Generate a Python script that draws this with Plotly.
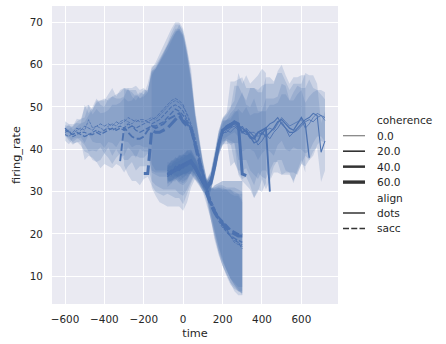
import plotly.graph_objects as go

# ---------------- data ----------------
COHERENCE = [0.0, 3.2, 6.4, 12.8, 25.6, 51.2]

DOTS_TIME = [-80, -60, -40, -20, 0, 20, 40, 60, 80, 100, 120, 140, 160, 180, 200,
             220, 240, 260, 280, 300, 320, 340, 360, 380, 400, 420, 440, 460, 480,
             500, 520, 540, 560, 580, 600, 620, 640, 660, 680, 700, 720]

SACC_TIME = [-600, -580, -560, -540, -520, -500, -480, -460, -440, -420, -400, -380,
             -360, -340, -320, -300, -280, -260, -240, -220, -200, -180, -160, -140,
             -120, -100, -80, -60, -40, -20, 0, 20, 40, 60, 80, 100, 120, 140, 160,
             180, 200, 220, 240, 260, 280, 300]

# mean firing rate, align = dots (series start at DOTS_TIME[0])
dots_c0 = [35.0, 34.5, 35.5, 36.0, 36.5, 36.0, 37.0, 35.5, 34.0, 32.5, 31.0, 32.5, 37.0, 41.5, 43.5, 44.5, 44.0, 45.0, 45.5,
           44.0, 45.0, 44.0, 44.0, 43.0, 44.0, 44.5, 45.0, 44.5, 46.0, 47.5, 46.5, 45.5, 46.0, 46.5, 47.0, 45.0, 46.0, 47.5, 48.5, 48.0, 46.8]
dots_c3 = [34.0, 35.0, 35.0, 36.5, 35.5, 37.0, 36.5, 35.0, 33.5, 32.0, 30.5, 32.0, 36.5, 41.0, 44.0, 44.0, 45.0, 45.5, 44.5,
           45.5, 44.0, 42.5, 43.0, 41.0, 42.0, 43.5, 42.5, 44.0, 45.0, 46.5, 45.0, 43.0, 44.0, 44.5, 45.5, 46.5, 47.0, 46.5, 47.5, 48.0, 47.5]
dots_c6 = [34.5, 34.0, 36.0, 35.5, 36.5, 36.5, 37.5, 36.0, 34.5, 32.5, 31.5, 33.0, 37.5, 42.0, 44.5, 45.0, 45.5, 46.0, 45.0,
           44.0, 43.5, 44.0, 43.0, 44.0, 43.5, 45.0, 46.0, 46.5, 47.5, 46.0, 45.0, 44.0, 44.0, 45.0, 46.0, 47.0, 47.5, 48.5, 48.0, 39.3, 42.0]
dots_c12 = [33.5, 34.5, 35.5, 35.0, 36.0, 37.0, 37.0, 35.5, 34.0, 32.0, 31.0, 32.5, 36.5, 41.5, 44.0, 45.5, 46.0, 46.5, 45.5,
            45.0, 44.0, 43.0, 41.5, 42.0, 44.0, 43.0, 44.0, 45.0, 46.5, 47.0, 46.0, 45.0, 44.5, 46.0, 47.5, 46.0, 38.0]
dots_c25 = [34.0, 35.0, 35.0, 36.0, 36.5, 37.0, 37.5, 36.0, 34.0, 32.0, 31.0, 32.0, 36.0, 41.0, 44.5, 45.5, 46.0, 46.5, 46.0,
            44.0, 44.5, 43.0, 42.5, 44.0, 44.5, 45.0, 30.0]
dots_c51 = [34.0, 34.5, 35.0, 35.5, 36.0, 36.5, 37.0, 36.0, 34.0, 32.5, 31.0, 32.0, 36.0, 41.0, 44.5, 45.0, 45.5, 46.5, 46.0,
            34.2, 33.8]

# confidence-band half widths, align = dots (None = no band)
dots_c0_ci = [2.0, 2.2, 2.0, 2.4, 2.2, 2.5, 2.3, 2.1, 2.0, 1.8, 1.6, 1.8, 2.0, 2.2, 2.5,
              2.5, 3.0, 3.5, 4.0, 4.5, 5.0, 4.0, 4.5, 5.5, 5.0, 4.5, 5.5, 6.0, 5.0, 5.5, 6.5, 6.0, 5.5, 6.5, 7.0, 6.0, 6.5, 6.0, 5.5, 5.0, 5.0]
dots_c3_ci = [2.2, 2.4, 2.6, 2.3, 2.5, 2.7, 2.4, 2.2, 2.0, 1.8, 1.7, 2.0, 2.3, 2.5, 2.8,
              2.8, 3.5, 4.0, 7.0, 8.0, 6.5, 7.5, 9.0, 8.0, 7.0, 8.5, 9.5, 8.0, 7.5, 9.0, 10.0, 8.5, 9.5, 10.5, 9.0, 8.0, 9.5, 8.0, 6.5, 6.0, 6.0]
dots_c6_ci = [1.8, 2.0, 2.2, 2.0, 2.3, 2.1, 2.2, 2.0, 1.9, 1.7, 1.5, 1.7, 2.0, 2.3, 2.6,
              3.0, 4.0, 9.0, 10.0, 9.0, 8.0, 10.5, 11.5, 9.5, 10.0, 12.0, 11.0, 9.5, 10.5, 12.0, 11.0, 10.0, 11.5, 10.5, 9.5, 11.0, 10.0, 9.0, 7.5, 7.0, 7.0]
dots_c12_ci = [2.4, 2.6, 2.5, 2.8, 2.6, 2.9, 2.7, 2.5, 2.3, 2.0, 1.8, 2.1, 2.4, 2.8, 3.2,
               3.0, 10.0, 9.5, 11.0, 12.0, 10.5, 11.5, 13.0, 12.0, 11.0, 12.5, 11.5, 10.5, 12.0, 13.0, 11.5, 10.5, 12.5, 11.0, 10.0, 11.5, None]
dots_c25_ci = [2.0, 2.3, 2.1, 2.5, 2.4, 2.6, 2.5, 2.2, 2.0, 1.8, 1.6, 1.9, 2.2, 2.6, 3.0,
               3.0, 4.0, 5.0, 12.0, 11.5, 13.0, 12.5, 14.0, 13.5, 14.5, 13.0, None]
dots_c51_ci = [1.6, 1.8, 1.9, 1.7, 2.0, 2.1, 2.0, 1.8, 1.7, 1.5, 1.4, 1.6, 1.8, 2.0, 2.2,
               2.0, 2.0, 2.5, 3.0, 3.0, None]

# mean firing rate, align = sacc (series end at SACC_TIME[-1])
sacc_c0 = [44.5, 44.0, 43.5, 44.5, 45.0, 44.5, 47.0, 45.0, 45.5, 45.0, 44.5, 45.5, 46.0, 45.5, 46.5, 47.0, 46.5, 46.0, 47.0, 46.5,
           46.5, 47.0, 47.5, 47.0, 48.0, 49.0, 50.0, 51.0, 51.5, 51.0, 50.0, 48.5, 46.0, 43.0, 39.0, 35.0, 31.0, 28.0, 25.5, 24.0,
           22.5, 21.0, 20.0, 19.0, 18.0, 17.0]
sacc_c3 = [43.5, 43.0, 44.0, 45.0, 44.5, 45.5, 45.0, 44.5, 45.5, 46.0, 45.5, 46.0, 45.5, 46.5, 46.0, 46.5, 47.5, 47.0, 46.5, 47.0,
           47.0, 46.5, 47.0, 47.5, 48.5, 49.5, 50.5, 51.5, 52.0, 51.5, 50.5, 48.0, 45.5, 42.0, 38.0, 34.0, 30.5, 27.5, 25.0, 23.0,
           21.5, 20.5, 19.5, 18.0, 17.5, 17.5]
sacc_c6 = [44.0, 44.5, 43.0, 43.5, 44.0, 44.0, 43.5, 44.0, 44.5, 44.0, 44.5, 45.0, 44.5, 45.0, 45.5, 45.0, 46.0, 45.5, 45.0, 45.5,
           46.0, 46.5, 46.0, 46.5, 47.0, 48.0, 49.0, 50.0, 50.5, 50.0, 49.0, 47.0, 45.0, 42.0, 38.5, 34.5, 31.0, 28.0, 26.0, 24.0,
           22.0, 21.0, 19.5, 18.5, 18.0, 16.5]
sacc_c12 = [45.0, 44.0, 43.5, 44.0, 43.5, 43.0, 43.5, 43.5, 44.0, 43.5, 44.0, 44.5, 45.0, 44.5, 45.0, 44.5, 45.0, 45.5, 44.5, 44.0,
            44.5, 45.0, 45.5, 45.5, 46.0, 46.5, 47.5, 48.5, 49.5, 49.0, 48.0, 46.5, 44.5, 41.5, 38.0, 34.0, 30.5, 27.0, 25.0, 23.5,
            22.0, 20.5, 19.5, 19.0, 18.5, 18.0]
sacc_c25 = [37.2, 45.2, 44.0, 43.0, 42.5, 42.5,
            43.0, 44.5, 45.5, 45.0, 45.5, 46.0, 47.0, 47.5, 48.0, 48.5, 47.0, 46.0, 44.5, 41.0, 37.0, 33.5, 30.0, 27.0, 25.5, 24.0,
            23.0, 22.0, 21.0, 20.5, 20.0, 20.0]
sacc_c51 = [34.3, 34.3, 44.5, 44.0, 44.0, 44.5, 45.0, 46.0, 47.0, 48.0, 46.5, 45.5, 45.0, 41.0, 37.0, 33.0, 29.5, 27.0, 25.0, 23.5,
            22.5, 21.5, 20.5, 20.0, 19.5, 19.5]

sacc_c0_ci = [1.2, 1.5, 1.8, 2.0, 2.2, 3.0, 3.5, 3.2, 4.0, 3.5, 4.2, 3.8, 4.5, 5.0, 4.5, 5.2, 4.8, 5.5, 6.0, 5.5,
              6.0, 6.5, 11.0, 12.0, 13.0, 14.0, 15.0, 16.5, 18.0, 18.5, 18.0, 15.5, 11.5, 6.5, 4.5, 2.5, 2.0, 3.0, 5.0, 7.0,
              8.5, 9.5, 10.5, 11.0, 11.5, 11.0]
sacc_c3_ci = [1.5, 1.8, 1.5, 2.2, 2.5, 4.5, 5.5, 4.8, 6.0, 5.5, 6.5, 5.5, 7.0, 6.5, 7.5, 8.0, 7.0, 7.5, 8.5, 7.0,
              7.5, 7.0, 12.0, 13.0, 14.0, 15.0, 16.0, 17.0, 18.0, 18.5, 18.0, 15.0, 11.0, 6.0, 4.0, 2.5, 2.0, 3.5, 5.5, 7.5,
              9.0, 10.0, 11.0, 11.5, 12.0, 12.0]
sacc_c6_ci = [1.0, 1.4, 1.6, 1.9, 2.1, 6.5, 5.0, 6.0, 7.5, 6.5, 5.5, 7.0, 8.0, 7.0, 6.5, 7.5, 8.5, 7.0, 6.5, 7.5,
              8.0, 7.5, 11.5, 12.5, 13.5, 14.5, 15.5, 16.5, 17.5, 18.0, 17.5, 14.5, 10.5, 6.0, 4.0, 2.5, 2.0, 3.0, 5.0, 7.0,
              8.5, 9.5, 10.0, 10.5, 11.0, 11.0]
sacc_c12_ci = [1.6, 2.0, 2.4, 2.2, 2.6, 3.5, 4.5, 6.0, 7.0, 8.0, 7.5, 8.5, 9.5, 8.0, 9.0, 10.0, 9.0, 8.5, 9.5, 8.0,
               8.5, 9.0, 13.0, 14.0, 15.0, 16.0, 17.0, 18.0, 19.0, 19.5, 19.0, 16.0, 12.0, 7.0, 4.5, 3.0, 2.0, 3.5, 6.0, 8.0,
               9.5, 10.5, 11.5, 12.0, 12.0, 12.0]
sacc_c25_ci = [None, 9.0, 10.0, 10.5, 10.0, 11.0,
               10.0, 11.0, 14.0, 15.0, 16.0, 17.0, 17.5, 18.5, 19.5, 20.0, 20.0, 16.5, 12.5, 7.0, 4.5, 3.0, 2.5, 3.5, 6.0, 8.0,
               9.5, 10.5, 11.5, 12.0, 12.5, 12.5]
sacc_c51_ci = [None, None, 13.5, 15.0, 16.5, 17.5, 18.5, 19.5, 20.5, 21.5, 21.0, 18.0, 14.0, 8.0, 5.0, 3.0, 2.5, 3.5, 6.5, 8.5,
               10.0, 11.0, 12.0, 12.5, 13.0, 13.0]

DOTS_MEAN = [dots_c0, dots_c3, dots_c6, dots_c12, dots_c25, dots_c51]
DOTS_CI = [dots_c0_ci, dots_c3_ci, dots_c6_ci, dots_c12_ci, dots_c25_ci, dots_c51_ci]
SACC_MEAN = [sacc_c0, sacc_c3, sacc_c6, sacc_c12, sacc_c25, sacc_c51]
SACC_CI = [sacc_c0_ci, sacc_c3_ci, sacc_c6_ci, sacc_c12_ci, sacc_c25_ci, sacc_c51_ci]

X_TICKS = [-600, -400, -200, 0, 200, 400, 600]
Y_TICKS = [10, 20, 30, 40, 50, 60, 70]
LEGEND_SIZES = [0.0, 20.0, 40.0, 60.0]
ALIGN_LEVELS = ["dots", "sacc"]

# ---------------- styling ----------------
COLOR = "#4c72b0"
BAND = "rgba(76,114,176,0.2)"
TEXT = "#262626"
FONT = "DejaVu Sans"
LW_MIN, LW_MAX = 0.75, 3.0
C_MIN, C_MAX = min(COHERENCE), max(COHERENCE)


def width_for(c):
    return LW_MIN + (LW_MAX - LW_MIN) * (c - C_MIN) / (C_MAX - C_MIN)


def dash_for(style, w):
    if style == "dots":
        return "solid"
    return f"{4 * w:.2f}px,{1.5 * w:.2f}px"


def series_times(align, n):
    if align == "dots":
        return DOTS_TIME[:n]
    return SACC_TIME[len(SACC_TIME) - n:]


fig = go.Figure()

# bands (drawn beneath all lines, like matplotlib's zorder)
for align, means, cis in (("dots", DOTS_MEAN, DOTS_CI), ("sacc", SACC_MEAN, SACC_CI)):
    for c, m, ci in zip(COHERENCE, means, cis):
        t = series_times(align, len(m))
        segs, seg = [], []
        for ti, mi, hi in zip(t, m, ci):
            if hi is None:
                if seg:
                    segs.append(seg)
                seg = []
            else:
                seg.append((ti, mi + hi, mi - hi))
        if seg:
            segs.append(seg)
        for s in segs:
            if len(s) < 2:
                continue
            xs = [p[0] for p in s] + [p[0] for p in reversed(s)]
            ys = [p[1] for p in s] + [p[2] for p in reversed(s)]
            fig.add_trace(go.Scatter(x=xs, y=ys, mode="lines", fill="toself",
                                     fillcolor=BAND, line=dict(width=0, color=BAND),
                                     hoverinfo="skip", showlegend=False))

# lines
for c_idx, c in enumerate(COHERENCE):
    for align, means in (("dots", DOTS_MEAN), ("sacc", SACC_MEAN)):
        m = means[c_idx]
        t = series_times(align, len(m))
        w = width_for(c)
        fig.add_trace(go.Scatter(x=t, y=m, mode="lines",
                                 line=dict(color=COLOR, width=w, dash=dash_for(align, w)),
                                 name=f"{c} {align}", showlegend=False))

# ---------------- hand-built legend (seaborn style) ----------------
PLOT_L, PLOT_R, PLOT_T, PLOT_B = 52, 338, 6, 304


def px_x(px):
    return (px - PLOT_L) / (PLOT_R - PLOT_L)


def px_y(py):
    return (PLOT_B - py) / (PLOT_B - PLOT_T)


entries = [("coherence", None, None)]
for s in LEGEND_SIZES:
    entries.append((f"{s:.1f}", width_for(s), "solid"))
entries.append(("align", None, None))
for a in ALIGN_LEVELS:
    entries.append((a, 1.5, dash_for(a, 1.5)))

row_y = 120.3
row_step = 15.45
shapes = []
annotations = []
for i, (label, w, d) in enumerate(entries):
    yc = row_y + i * row_step
    if w is not None:
        shapes.append(dict(type="line", xref="paper", yref="paper",
                           x0=px_x(343), x1=px_x(365), y0=px_y(yc), y1=px_y(yc),
                           line=dict(color="#333333", width=w, dash=d)))
    annotations.append(dict(text=label, xref="paper", yref="paper",
                            x=px_x(375), y=px_y(yc), xanchor="left", yanchor="middle",
                            showarrow=False, font=dict(family=FONT, size=10.6, color=TEXT)))

fig.update_layout(
    width=446, height=344,
    margin=dict(l=PLOT_L, r=446 - PLOT_R, t=PLOT_T, b=344 - PLOT_B, autoexpand=False),
    plot_bgcolor="#EAEAF2", paper_bgcolor="white",
    font=dict(family=FONT, color=TEXT),
    showlegend=False,
    shapes=shapes, annotations=annotations,
    xaxis=dict(range=[-666, 786], tickvals=X_TICKS, gridcolor="white", gridwidth=1,
               zeroline=False, showline=False, ticks="outside", ticklen=6,
               tickcolor="rgba(0,0,0,0)", tickfont=dict(size=10.4, color=TEXT, family=FONT),
               title=dict(text="time", font=dict(size=11.3, color=TEXT, family=FONT), standoff=4),
               automargin=False),
    yaxis=dict(range=[3.46, 73.85], tickvals=Y_TICKS, gridcolor="white", gridwidth=1,
               zeroline=False, showline=False, ticks="outside", ticklen=6,
               tickcolor="rgba(0,0,0,0)", tickfont=dict(size=10.4, color=TEXT, family=FONT),
               title=dict(text="firing_rate", font=dict(size=11.3, color=TEXT, family=FONT), standoff=6),
               automargin=False),
)

fig.write_html("out.html", config={"displayModeBar": False},
               post_script="document.body.style.margin='0';document.body.style.overflow='hidden';")
